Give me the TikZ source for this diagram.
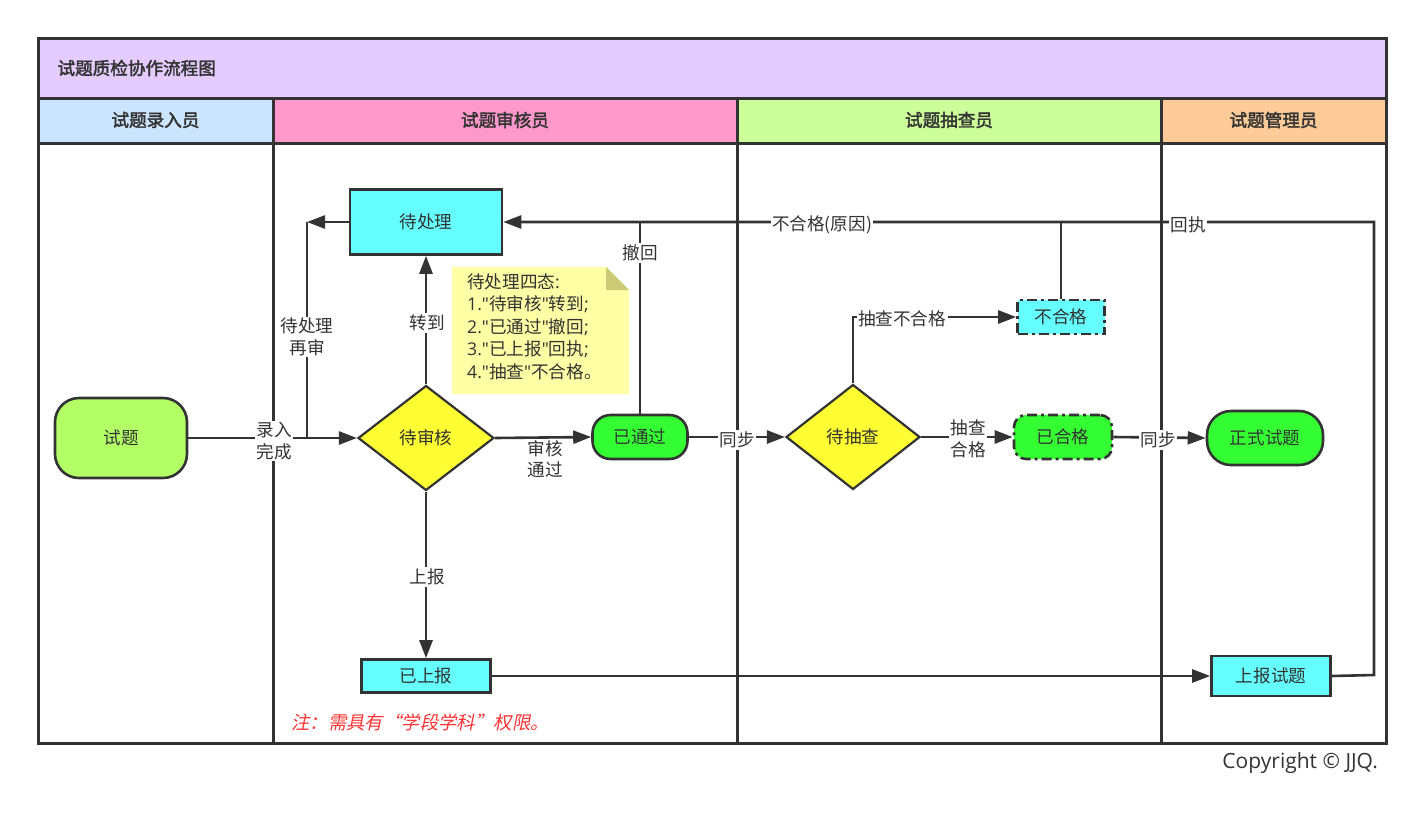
\documentclass[tikz,border=0pt]{standalone}
\usepackage{fontspec}
\setmainfont{Noto Sans CJK SC}
\newfontfamily\hdfont[FakeBold=2.2]{Noto Sans CJK SC}
\newfontfamily\itfont[FakeSlant=0.2]{Noto Sans CJK SC}
\newfontfamily\latinfont{Open Sans}
\newcommand{\lt}[1]{{\latinfont #1}}
\usetikzlibrary{arrows.meta,shapes.geometric}
\definecolor{ln}{HTML}{333333}
\definecolor{titlebg}{HTML}{E5CCFF}
\definecolor{laneA}{HTML}{CCE5FF}
\definecolor{laneB}{HTML}{FF99CC}
\definecolor{laneC}{HTML}{CCFF99}
\definecolor{laneD}{HTML}{FFCC99}
\definecolor{cyanbox}{HTML}{66FFFF}
\definecolor{greenbox}{HTML}{33FF33}
\definecolor{limebox}{HTML}{B3FF66}
\definecolor{yelbox}{HTML}{FFFF33}
\definecolor{notebg}{HTML}{FFFFA5}
\definecolor{notefold}{HTML}{CCCC77}
\definecolor{notered}{HTML}{FF3333}
\begin{document}
\begin{tikzpicture}[x=1pt,y=-1pt,
  txt/.style={font=\fontsize{17.6}{21.5}\selectfont, text=ln},
  hd/.style={font=\hdfont\fontsize{17.6}{20}\selectfont, text=ln},
  box/.style={txt, draw=ln, line width=2.6pt, inner sep=0pt, align=center},
  rectbox/.style={box, fill=cyanbox},
  pill/.style={box, fill=greenbox},
  dia/.style={box, diamond, fill=yelbox, line width=2.2pt},
  conn/.style={draw=ln, line width=2.6pt},
  arr/.style={conn, -{Triangle[length=18pt,width=13pt]}},
  lab/.style={txt, fill=white, inner sep=1.5pt, align=center},
  lane/.style={draw=ln, line width=3pt},
  dashdot/.style={dash pattern=on 10pt off 4pt on 3pt off 4pt}
]
\useasboundingbox (0,0) rectangle (1423,814);
% ---------- swimlane frame ----------
\fill[titlebg] (38,38) rectangle (1386,98);
\fill[laneA] (38,98) rectangle (273,143);
\fill[laneB] (273,98) rectangle (737,143);
\fill[laneC] (737,98) rectangle (1161,143);
\fill[laneD] (1161,98) rectangle (1386,143);
\draw[lane] (38,38) rectangle (1386,743);
\draw[lane] (38,98) -- (1386,98);
\draw[lane] (38,143) -- (1386,143);
\draw[lane] (273,98) -- (273,743);
\draw[lane] (737,98) -- (737,743);
\draw[lane] (1161,98) -- (1161,743);
\node[hd, anchor=west] (title) at (54,68) {试题质检协作流程图};
\node[hd] (hA) at (155.5,120) {试题录入员};
\node[hd] (hB) at (505,120) {试题审核员};
\node[hd] (hC) at (949,120) {试题抽查员};
\node[hd] (hD) at (1273.5,120) {试题管理员};
% ---------- nodes ----------
\node[box, fill=limebox, minimum width=132pt, minimum height=80pt, rounded corners=24pt] (shiti) at (121,438) {试题};
\node[rectbox, minimum width=152pt, minimum height=65pt] (dcl) at (426,222) {待处理};
\node[dia, minimum width=136pt, minimum height=105pt, aspect=1.3] (dsh) at (426,438) {待审核};
\node[pill, minimum width=95pt, minimum height=44pt, rounded corners=18pt] (ytg) at (640,437) {已通过};
\node[dia, minimum width=134pt, minimum height=105pt, aspect=1.28] (dcc) at (853,437) {待抽查};
\node[rectbox, dashdot, minimum width=87pt, minimum height=34pt] (bhg) at (1061,317) {不合格};
\node[pill, dashdot, minimum width=98pt, minimum height=44pt, rounded corners=12pt] (yhg) at (1063,437) {已合格};
\node[pill, minimum width=116pt, minimum height=54pt, rounded corners=24pt] (zssti) at (1265,438) {正式试题};
\node[rectbox, minimum width=129pt, minimum height=33pt] (ysb) at (426,676) {已上报};
\node[rectbox, minimum width=119pt, minimum height=40pt] (sbst) at (1271,676) {上报试题};
% ---------- sticky note ----------
\fill[notebg] (452,267) -- (606,267) -- (629,290) -- (629,394) -- (452,394) -- cycle;
\fill[notefold] (606,267) -- (606,290) -- (629,290) -- cycle;
\node[txt, anchor=north west, align=left, inner sep=0pt, font=\fontsize{17.6}{22.5}\selectfont] (note) at (467,273)
  {待处理四态\lt{:}\\\lt{1."}待审核\lt{"}转到\lt{;}\\\lt{2."}已通过\lt{"}撤回\lt{;}\\\lt{3."}已上报\lt{"}回执\lt{;}\\\lt{4."}抽查\lt{"}不合格。};
% ---------- connectors ----------
\coordinate (j1) at (307,438);
\coordinate (c1) at (307,222);
\coordinate (c2) at (640,222);
\coordinate (c3) at (1061,222);
\coordinate (c4) at (1374,675);
\coordinate (c5) at (1374,222);
\coordinate (c6) at (853,317);
\draw[arr] (shiti.east) -- (dsh.west);
\draw[conn] (j1) -- (c1);
\draw[arr] (dcl.west) -- (c1);
\draw[arr] (dsh.north) -- (dcl.south);
\draw[arr] (dsh.east) -- (ytg.west);
\draw[conn] (ytg.north) -- (c2);
\draw[conn] (bhg.north) -- (c3);
\draw[arr] (sbst.east) -- (c4) -- (c5) -- (dcl.east);
\draw[arr] (dsh.south) -- (ysb.north);
\draw[arr] (ysb.east) -- (sbst.west);
\draw[arr] (ytg.east) -- (dcc.west);
\draw[arr] (dcc.north) -- (c6) -- (bhg.west);
\draw[arr] (dcc.east) -- (yhg.west);
\draw[arr] (yhg.east) -- (zssti.west);
% ---------- labels ----------
\node[lab] (l1) at (274,441) {录入\\完成};
\node[lab] (l2) at (307,337) {待处理\\再审};
\node[lab] (l3) at (427,323) {转到};
\node[lab] (l4) at (545,459) {审核\\通过};
\node[lab] (l5) at (640,253) {撤回};
\node[lab] (l6) at (822,225) {不合格(原因)};
\node[lab] (l7) at (1188,225) {回执};
\node[lab] (l8) at (427,577) {上报};
\node[lab] (l9) at (737,440) {同步};
\node[lab] (l10) at (902,319) {抽查不合格};
\node[lab] (l11) at (968,439) {抽查\\合格};
\node[lab] (l12) at (1158,440) {同步};
% ---------- footnotes ----------
\node[anchor=west, text=notered, font=\itfont\fontsize{18.4}{22}\selectfont, inner sep=0pt] (remark) at (291,722) {注：需具有“学段学科”权限。};
\node[anchor=east, text=ln, font=\latinfont\fontsize{21}{24}\selectfont, inner sep=0pt] (copy) at (1378,763) {Copyright © JJQ.};
\end{tikzpicture}
\end{document}
